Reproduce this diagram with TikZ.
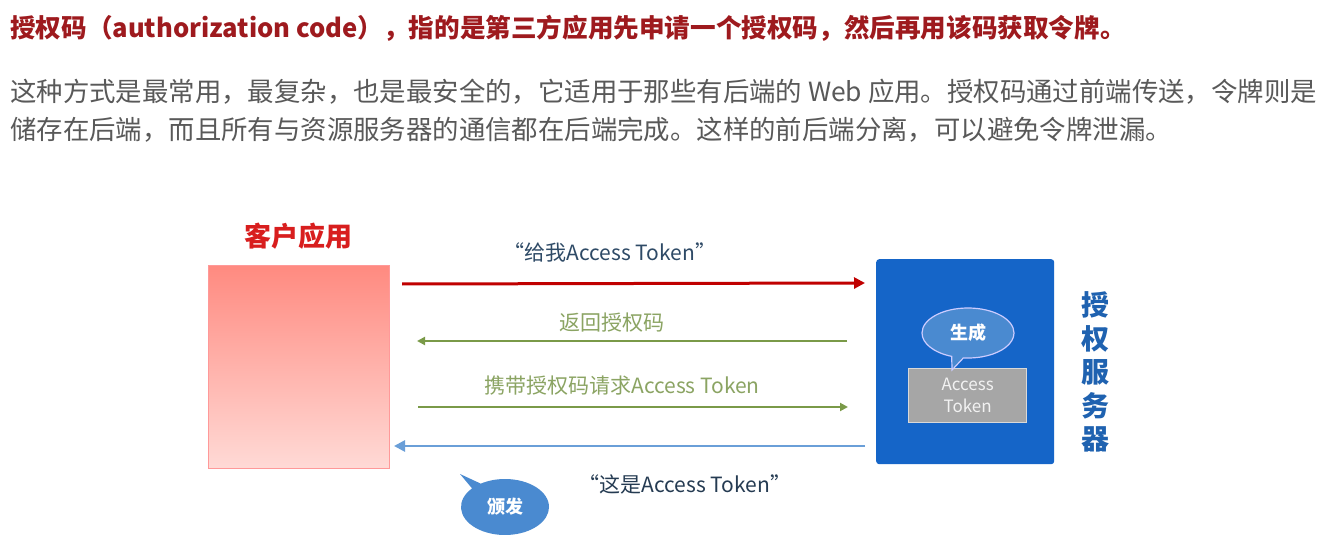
\documentclass[tikz,border=0pt]{standalone}
\usepackage{fontspec}
\setmainfont{Noto Sans CJK SC}
\usetikzlibrary{arrows.meta,shapes.geometric,shapes.callouts}
\definecolor{titlered}{HTML}{9E1A1E}
\definecolor{bodygray}{HTML}{595959}
\definecolor{clientred}{HTML}{D81E1E}
\definecolor{arrowred}{HTML}{C00000}
\definecolor{arrowgreen}{HTML}{7A9A48}
\definecolor{labelgreen}{HTML}{8BA463}
\definecolor{arrowblue}{HTML}{6A9FD8}
\definecolor{serverblue}{HTML}{1565C8}
\definecolor{bubbleblue}{HTML}{4A8AD0}
\definecolor{servertext}{HTML}{1F62B0}
\definecolor{navytext}{HTML}{2E4A66}
\definecolor{clienttop}{HTML}{FF8A80}
\definecolor{clientbottom}{HTML}{FFDAD6}
\begin{document}
\begin{tikzpicture}[x=1pt,y=-1pt,
  bodytext/.style={anchor=base west,inner sep=0pt,text=bodygray,font=\fontsize{26.4}{30}\selectfont},
  arrowlabel/.style={inner sep=0pt,font=\fontsize{21}{24}\selectfont},
  msgarrow/.style={-{Triangle[length=11pt,width=11pt]}},
  thinarrow/.style={-{Triangle[length=8pt,width=8pt]},line width=2pt,arrowgreen}]
\useasboundingbox[fill=white] (0,0) rectangle (1328,548);
% title and text
\node[anchor=base west,inner sep=0pt,text=titlered,font=\bfseries\fontsize{25.6}{28}\selectfont] (title) at (10,38)
  {授权码（authorization code），指的是第三方应用先申请一个授权码，然后再用该码获取令牌。};
\node[bodytext] (line1) at (10,102) {这种方式是最常用，最复杂，也是最安全的，它适用于那些有后端的 Web 应用。授权码通过前端传送，令牌则是};
\node[bodytext] (line2) at (10,140) {储存在后端，而且所有与资源服务器的通信都在后端完成。这样的前后端分离，可以避免令牌泄漏。};
% client
\node[font=\bfseries\fontsize{27}{30}\selectfont,text=clientred,inner sep=0pt] (clientlabel) at (298,236) {客户应用};
\node[draw=red!40,line width=1pt,top color=clienttop,bottom color=clientbottom,minimum width=181pt,minimum height=203pt,inner sep=0pt,anchor=north west] (client) at (208,265) {};
% server
\node[fill=serverblue,rounded corners=3pt,minimum width=178pt,minimum height=205pt,inner sep=0pt,anchor=north west] (server) at (876,259) {};
\node[text=servertext,font=\bfseries\fontsize{28}{33.5}\selectfont,align=center,inner sep=0pt] (serverlabel) at (1095,372) {授\\权\\服\\务\\器};
\node[fill=black!35,draw=white!85!black,line width=1.2pt,minimum width=118pt,minimum height=54pt,inner sep=0pt,anchor=north west,text=white!95!black,align=center,font=\fontsize{17}{22}\selectfont] (token) at (908,368) {Access\\Token};
\node[ellipse callout,callout absolute pointer={(952,370)},fill=bubbleblue,draw=white!80!blue,line width=1.2pt,minimum width=92pt,minimum height=50pt,inner sep=0pt,text=white,font=\bfseries\fontsize{18}{20}\selectfont] (gen) at (968,333) {生成};
% arrows
\coordinate (a1s) at (402,284);
\coordinate (a1e) at (865,283);
\draw[msgarrow,arrowred,line width=3pt] (a1s) -- (a1e);
\node[arrowlabel,text=navytext] (l1) at (610,252) {“给我Access Token”};
\coordinate (a2s) at (847,341);
\coordinate (a2e) at (417,341);
\draw[thinarrow] (a2s) -- (a2e);
\node[arrowlabel,text=labelgreen] (l2) at (612,323) {返回授权码};
\coordinate (a3s) at (418,407);
\coordinate (a3e) at (848,407);
\draw[thinarrow] (a3s) -- (a3e);
\node[arrowlabel,text=labelgreen] (l3) at (622,386) {携带授权码请求Access Token};
\coordinate (a4s) at (865,446);
\coordinate (a4e) at (394,446);
\draw[msgarrow,arrowblue,line width=2.6pt] (a4s) -- (a4e);
\node[arrowlabel,text=navytext!80!black] (l4) at (685,484) {“这是Access Token”};
\node[ellipse callout,callout absolute pointer={(460,474)},fill=bubbleblue,minimum width=88pt,minimum height=56pt,inner sep=0pt,text=white,font=\bfseries\fontsize{18}{20}\selectfont] (issue) at (505,507) {颁发};
\end{tikzpicture}
\end{document}
